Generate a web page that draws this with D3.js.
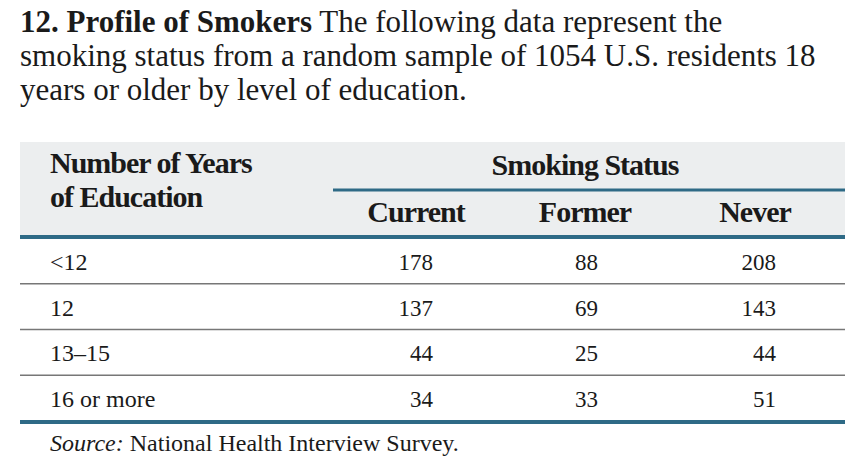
<!DOCTYPE html>
<html><head><meta charset="utf-8">
<script src="https://cdn.jsdelivr.net/npm/d3@7"></script>
<style>body{margin:0;background:#fff}text{font-family:"Liberation Serif","DejaVu Serif",serif;fill:#1a1a1a}</style>
</head><body><div id="chart"></div>
<script>
// table data
var education = ["<12", "12", "13\u201315", "16 or more"];
var statuses = ["Current", "Former", "Never"];
var current = [178, 137, 44, 34];
var former = [88, 69, 25, 33];
var never = [208, 143, 44, 51];
var columns = [current, former, never];

var W = 865, H = 467;
var svg = d3.select("#chart").append("svg").attr("width", W).attr("height", H);

// title
var title = svg.append("text").attr("x", 20).attr("y", 32).style("font-size", "31px");
title.append("tspan").attr("font-weight", "bold").text("12. Profile of Smokers");
title.append("tspan").text("  The following data represent the");
svg.append("text").attr("x", 20).attr("y", 66).style("font-size", "31px")
    .text("smoking status from a random sample of 1054 U.S. residents 18");
svg.append("text").attr("x", 20).attr("y", 100).style("font-size", "31px")
    .text("years or older by level of education.");

// header band
svg.append("rect").attr("x", 20).attr("y", 142).attr("width", 825).attr("height", 94).attr("fill", "#eceeef");
svg.append("line").attr("x1", 333).attr("x2", 845).attr("y1", 190).attr("y2", 190)
    .attr("stroke", "#2e6a86").attr("stroke-width", 3);
svg.append("line").attr("x1", 20).attr("x2", 845).attr("y1", 237).attr("y2", 237)
    .attr("stroke", "#2e6a86").attr("stroke-width", 4);

function hText(x, y, t, anchor) {
  svg.append("text").attr("x", x).attr("y", y).attr("text-anchor", anchor || "start")
     .style("font-size", "30px").style("font-weight", "bold").style("letter-spacing", "-1px").text(t);
}
hText(50, 173, "Number of Years");
hText(50, 207, "of Education");
hText(585, 175, "Smoking Status", "middle");

// column positions (right edges of numbers)
var x = d3.scaleOrdinal().domain(statuses).range([433, 598, 776]);
var xHead = d3.scaleOrdinal().domain(statuses).range([416, 585, 755]);
statuses.forEach(function (s) { hText(xHead(s), 222, s, "middle"); });

// rows
var y = d3.scaleBand().domain(education).range([238, 421]);
var rows = svg.selectAll(".row").data(education).enter().append("g").attr("class", "row")
    .attr("transform", function (d) { return "translate(0," + y(d) + ")"; });
rows.append("text").attr("x", 50).attr("y", y.bandwidth() / 2 + 9).style("font-size", "24px")
    .text(function (d) { return d; });
statuses.forEach(function (s, j) {
  rows.append("text").attr("x", x(s)).attr("y", y.bandwidth() / 2 + 9).attr("text-anchor", "end")
      .style("font-size", "23px").text(function (d, i) { return columns[j][i]; });
});
rows.filter(function (d, i) { return i > 0; }).append("line")
    .attr("x1", 20).attr("x2", 845).attr("stroke", "#777").attr("stroke-width", 1.3);

svg.append("line").attr("x1", 20).attr("x2", 845).attr("y1", 422).attr("y2", 422)
    .attr("stroke", "#2e6a86").attr("stroke-width", 4);

var src = svg.append("text").attr("x", 50).attr("y", 451).style("font-size", "24px");
src.append("tspan").attr("font-style", "italic").text("Source:");
src.append("tspan").text(" National Health Interview Survey.");
</script></body></html>
